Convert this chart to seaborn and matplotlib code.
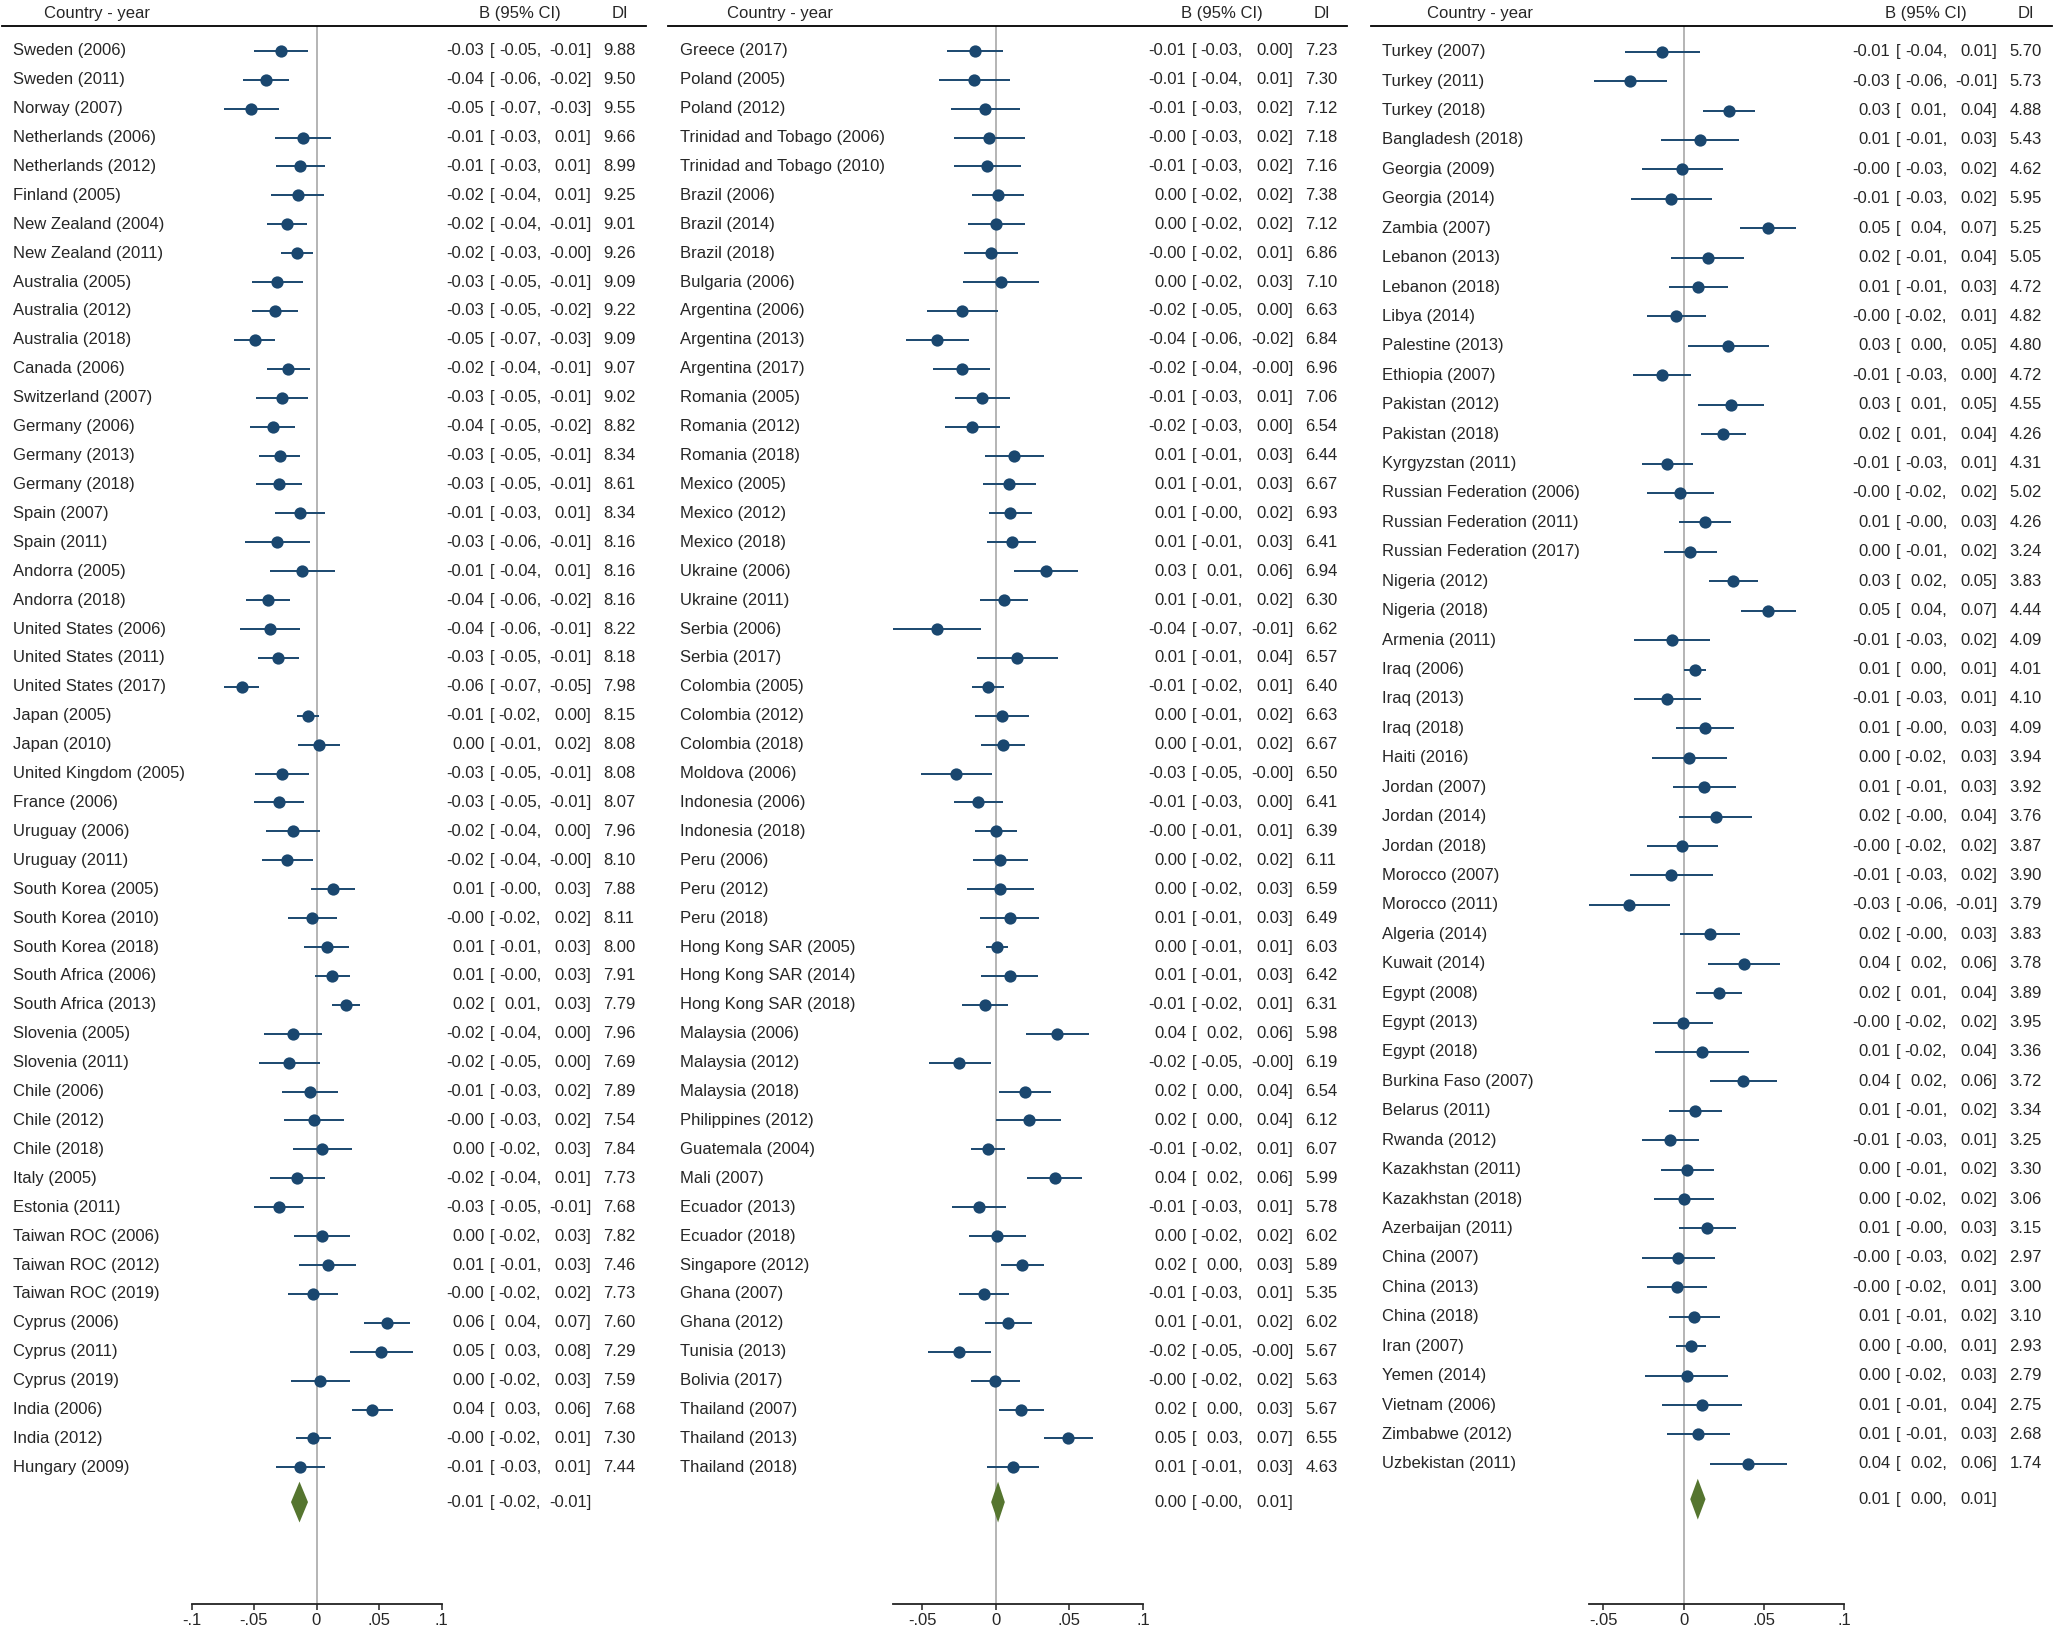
import numpy as np
import pandas as pd
import matplotlib
matplotlib.use("Agg")
import matplotlib.pyplot as plt
import seaborn as sns

# ---------------- data ----------------
labels_1 = ["Sweden (2006)", "Sweden (2011)", "Norway (2007)", "Netherlands (2006)", "Netherlands (2012)",
            "Finland (2005)", "New Zealand (2004)", "New Zealand (2011)", "Australia (2005)", "Australia (2012)",
            "Australia (2018)", "Canada (2006)", "Switzerland (2007)", "Germany (2006)", "Germany (2013)",
            "Germany (2018)", "Spain (2007)", "Spain (2011)", "Andorra (2005)", "Andorra (2018)",
            "United States (2006)", "United States (2011)", "United States (2017)", "Japan (2005)", "Japan (2010)",
            "United Kingdom (2005)", "France (2006)", "Uruguay (2006)", "Uruguay (2011)", "South Korea (2005)",
            "South Korea (2010)", "South Korea (2018)", "South Africa (2006)", "South Africa (2013)", "Slovenia (2005)",
            "Slovenia (2011)", "Chile (2006)", "Chile (2012)", "Chile (2018)", "Italy (2005)",
            "Estonia (2011)", "Taiwan ROC (2006)", "Taiwan ROC (2012)", "Taiwan ROC (2019)", "Cyprus (2006)",
            "Cyprus (2011)", "Cyprus (2019)", "India (2006)", "India (2012)", "Hungary (2009)"]
b_1 = [-0.0285, -0.0403, -0.0523, -0.0109, -0.0131, -0.0152, -0.0237, -0.0160, -0.0317, -0.0333,
       -0.0496, -0.0227, -0.0280, -0.0352, -0.0296, -0.0304, -0.0133, -0.0315, -0.0115, -0.0389,
       -0.0376, -0.0309, -0.0600, -0.0069, 0.0019, -0.0277, -0.0301, -0.0189, -0.0235, 0.0128,
       -0.0035, 0.0080, 0.0123, 0.0232, -0.0187, -0.0219, -0.0056, -0.0024, 0.0045, -0.0155,
       -0.0304, 0.0040, 0.0088, -0.0029, 0.0563, 0.0517, 0.0029, 0.0445, -0.0027, -0.0133]
lo_1 = [-0.0499, -0.0587, -0.0741, -0.0336, -0.0325, -0.0363, -0.0397, -0.0283, -0.0517, -0.0517,
        -0.0659, -0.0397, -0.0488, -0.0531, -0.0461, -0.0488, -0.0333, -0.0573, -0.0373, -0.0568,
        -0.0616, -0.0472, -0.0739, -0.0160, -0.0147, -0.0493, -0.0501, -0.0403, -0.0440, -0.0048,
        -0.0232, -0.0099, -0.0016, 0.0120, -0.0419, -0.0461, -0.0280, -0.0264, -0.0189, -0.0371,
        -0.0501, -0.0181, -0.0139, -0.0229, 0.0381, 0.0269, -0.0205, 0.0285, -0.0163, -0.0328]
hi_1 = [-0.0072, -0.0221, -0.0299, 0.0117, 0.0064, 0.0061, -0.0075, -0.0032, -0.0112, -0.0152,
        -0.0331, -0.0056, -0.0067, -0.0171, -0.0131, -0.0120, 0.0069, -0.0053, 0.0144, -0.0211,
        -0.0136, -0.0144, -0.0459, 0.0021, 0.0187, -0.0064, -0.0101, 0.0024, -0.0029, 0.0309,
        0.0160, 0.0256, 0.0264, 0.0349, 0.0045, 0.0027, 0.0173, 0.0216, 0.0280, 0.0064,
        -0.0104, 0.0264, 0.0315, 0.0173, 0.0744, 0.0768, 0.0269, 0.0608, 0.0112, 0.0064]
di_1 = [9.88, 9.50, 9.55, 9.66, 8.99, 9.25, 9.01, 9.26, 9.09, 9.22,
        9.09, 9.07, 9.02, 8.82, 8.34, 8.61, 8.34, 8.16, 8.16, 8.16,
        8.22, 8.18, 7.98, 8.15, 8.08, 8.08, 8.07, 7.96, 8.10, 7.88,
        8.11, 8.00, 7.91, 7.79, 7.96, 7.69, 7.89, 7.54, 7.84, 7.73,
        7.68, 7.82, 7.46, 7.73, 7.60, 7.29, 7.59, 7.68, 7.30, 7.44]

labels_2 = ["Greece (2017)", "Poland (2005)", "Poland (2012)", "Trinidad and Tobago (2006)", "Trinidad and Tobago (2010)",
            "Brazil (2006)", "Brazil (2014)", "Brazil (2018)", "Bulgaria (2006)", "Argentina (2006)",
            "Argentina (2013)", "Argentina (2017)", "Romania (2005)", "Romania (2012)", "Romania (2018)",
            "Mexico (2005)", "Mexico (2012)", "Mexico (2018)", "Ukraine (2006)", "Ukraine (2011)",
            "Serbia (2006)", "Serbia (2017)", "Colombia (2005)", "Colombia (2012)", "Colombia (2018)",
            "Moldova (2006)", "Indonesia (2006)", "Indonesia (2018)", "Peru (2006)", "Peru (2012)",
            "Peru (2018)", "Hong Kong SAR (2005)", "Hong Kong SAR (2014)", "Hong Kong SAR (2018)", "Malaysia (2006)",
            "Malaysia (2012)", "Malaysia (2018)", "Philippines (2012)", "Guatemala (2004)", "Mali (2007)",
            "Ecuador (2013)", "Ecuador (2018)", "Singapore (2012)", "Ghana (2007)", "Ghana (2012)",
            "Tunisia (2013)", "Bolivia (2017)", "Thailand (2007)", "Thailand (2013)", "Thailand (2018)"]
b_2 = [-0.0141, -0.0147, -0.0073, -0.0048, -0.0059, 0.0014, 0.0002, -0.0034, 0.0034, -0.0229,
       -0.0401, -0.0234, -0.0093, -0.0161, 0.0125, 0.0088, 0.0098, 0.0107, 0.0338, 0.0057,
       -0.0401, 0.0145, -0.0054, 0.0041, 0.0045, -0.0270, -0.0120, -0.0003, 0.0030, 0.0030,
       0.0093, 0.0009, 0.0093, -0.0073, 0.0417, -0.0249, 0.0195, 0.0224, -0.0052, 0.0399,
       -0.0116, 0.0007, 0.0179, -0.0082, 0.0084, -0.0249, -0.0005, 0.0172, 0.0492, 0.0116]
lo_2 = [-0.0331, -0.0390, -0.0304, -0.0286, -0.0283, -0.0161, -0.0193, -0.0218, -0.0222, -0.0469,
        -0.0615, -0.0426, -0.0281, -0.0345, -0.0073, -0.0091, -0.0045, -0.0059, 0.0120, -0.0107,
        -0.0703, -0.0129, -0.0163, -0.0145, -0.0102, -0.0512, -0.0286, -0.0141, -0.0159, -0.0197,
        -0.0107, -0.0066, -0.0102, -0.0231, 0.0202, -0.0458, 0.0020, 0.0002, -0.0168, 0.0213,
        -0.0297, -0.0184, 0.0036, -0.0252, -0.0075, -0.0465, -0.0170, 0.0020, 0.0324, -0.0059]
hi_2 = [0.0045, 0.0098, 0.0163, 0.0195, 0.0168, 0.0190, 0.0200, 0.0147, 0.0295, 0.0014,
        -0.0184, -0.0041, 0.0098, 0.0025, 0.0324, 0.0270, 0.0245, 0.0270, 0.0558, 0.0220,
        -0.0102, 0.0422, 0.0057, 0.0227, 0.0195, -0.0027, 0.0045, 0.0141, 0.0220, 0.0261,
        0.0293, 0.0084, 0.0288, 0.0084, 0.0633, -0.0036, 0.0374, 0.0442, 0.0063, 0.0587,
        0.0068, 0.0202, 0.0324, 0.0088, 0.0245, -0.0032, 0.0161, 0.0324, 0.0660, 0.0293]
di_2 = [7.23, 7.30, 7.12, 7.18, 7.16, 7.38, 7.12, 6.86, 7.10, 6.63,
        6.84, 6.96, 7.06, 6.54, 6.44, 6.67, 6.93, 6.41, 6.94, 6.30,
        6.62, 6.57, 6.40, 6.63, 6.67, 6.50, 6.41, 6.39, 6.11, 6.59,
        6.49, 6.03, 6.42, 6.31, 5.98, 6.19, 6.54, 6.12, 6.07, 5.99,
        5.78, 6.02, 5.89, 5.35, 6.02, 5.67, 5.63, 5.67, 6.55, 4.63]

labels_3 = ["Turkey (2007)", "Turkey (2011)", "Turkey (2018)", "Bangladesh (2018)", "Georgia (2009)",
            "Georgia (2014)", "Zambia (2007)", "Lebanon (2013)", "Lebanon (2018)", "Libya (2014)",
            "Palestine (2013)", "Ethiopia (2007)", "Pakistan (2012)", "Pakistan (2018)", "Kyrgyzstan (2011)",
            "Russian Federation (2006)", "Russian Federation (2011)", "Russian Federation (2017)", "Nigeria (2012)", "Nigeria (2018)",
            "Armenia (2011)", "Iraq (2006)", "Iraq (2013)", "Iraq (2018)", "Haiti (2016)",
            "Jordan (2007)", "Jordan (2014)", "Jordan (2018)", "Morocco (2007)", "Morocco (2011)",
            "Algeria (2014)", "Kuwait (2014)", "Egypt (2008)", "Egypt (2013)", "Egypt (2018)",
            "Burkina Faso (2007)", "Belarus (2011)", "Rwanda (2012)", "Kazakhstan (2011)", "Kazakhstan (2018)",
            "Azerbaijan (2011)", "China (2007)", "China (2013)", "China (2018)", "Iran (2007)",
            "Yemen (2014)", "Vietnam (2006)", "Zimbabwe (2012)", "Uzbekistan (2011)"]
b_3 = [-0.0131, -0.0330, 0.0284, 0.0104, -0.0008, -0.0075, 0.0523, 0.0152, 0.0093, -0.0046,
       0.0278, -0.0133, 0.0295, 0.0247, -0.0102, -0.0021, 0.0131, 0.0041, 0.0307, 0.0527,
       -0.0071, 0.0071, -0.0102, 0.0133, 0.0037, 0.0127, 0.0201, -0.0008, -0.0077, -0.0338,
       0.0164, 0.0376, 0.0220, -0.0002, 0.0114, 0.0373, 0.0073, -0.0083, 0.0019, 0.0004,
       0.0147, -0.0033, -0.0039, 0.0068, 0.0044, 0.0019, 0.0114, 0.0093, 0.0402]
lo_3 = [-0.0365, -0.0554, 0.0124, -0.0143, -0.0257, -0.0324, 0.0353, -0.0079, -0.0093, -0.0226,
        0.0025, -0.0313, 0.0089, 0.0106, -0.0257, -0.0230, -0.0029, -0.0124, 0.0156, 0.0355,
        -0.0307, 0.0003, -0.0311, -0.0045, -0.0195, -0.0066, -0.0025, -0.0228, -0.0336, -0.0589,
        -0.0021, 0.0154, 0.0077, -0.0187, -0.0178, 0.0168, -0.0089, -0.0261, -0.0143, -0.0183,
        -0.0031, -0.0257, -0.0230, -0.0089, -0.0045, -0.0237, -0.0133, -0.0100, 0.0162]
hi_3 = [0.0104, -0.0104, 0.0444, 0.0345, 0.0243, 0.0178, 0.0697, 0.0378, 0.0280, 0.0139,
        0.0535, 0.0045, 0.0498, 0.0390, 0.0058, 0.0189, 0.0293, 0.0210, 0.0461, 0.0699,
        0.0166, 0.0141, 0.0108, 0.0315, 0.0270, 0.0324, 0.0427, 0.0214, 0.0183, -0.0085,
        0.0349, 0.0602, 0.0361, 0.0183, 0.0407, 0.0581, 0.0237, 0.0098, 0.0187, 0.0191,
        0.0328, 0.0195, 0.0149, 0.0226, 0.0141, 0.0276, 0.0361, 0.0288, 0.0643]
di_3 = [5.70, 5.73, 4.88, 5.43, 4.62, 5.95, 5.25, 5.05, 4.72, 4.82,
        4.80, 4.72, 4.55, 4.26, 4.31, 5.02, 4.26, 3.24, 3.83, 4.44,
        4.09, 4.01, 4.10, 4.09, 3.94, 3.92, 3.76, 3.87, 3.90, 3.79,
        3.83, 3.78, 3.89, 3.95, 3.36, 3.72, 3.34, 3.25, 3.30, 3.06,
        3.15, 2.97, 3.00, 3.10, 2.93, 2.79, 2.75, 2.68, 1.74]

# pooled estimate of each panel
pooled_b = [-0.0136, 0.0014, 0.0089]
pooled_lo = [-0.0204, -0.0033, 0.0042]
pooled_hi = [-0.0068, 0.0060, 0.0137]

# ---------------- style ----------------
sns.set_theme(style="white")
plt.rcParams["font.family"] = ["Liberation Sans", "DejaVu Sans"]

W, H = 2055, 1637
TOP, BOTTOM = 26, 1604          # header rule / x axis, pixels from top
NAVY = "#1a476f"
OLIVE = "#55752f"
ZERO_GREY = "#b4b4b4"
FS = 12

fig = plt.figure(figsize=(W / 100, H / 100), dpi=100)
fig.patch.set_facecolor("white")

# layout of the three panels in figure pixels
panels = [
    dict(labels=labels_1, b=b_1, lo=lo_1, hi=hi_1, di=di_1,
         left=2, right=646, zero=316.5, scale=1250, shift=0, label_x=13.4, head_x=97,
         axis_from=-0.1, ticks=[-0.1, -0.05, 0, 0.05, 0.1], row0=50.8, step=28.91),
    dict(labels=labels_2, b=b_2, lo=lo_2, hi=hi_2, di=di_2,
         left=668, right=1347, zero=996, scale=1470, shift=702, label_x=680.4, head_x=780,
         axis_from=-0.07, ticks=[-0.05, 0, 0.05, 0.1], row0=50.8, step=28.91),
    dict(labels=labels_3, b=b_3, lo=lo_3, hi=hi_3, di=di_3,
         left=1371, right=2052, zero=1683.5, scale=1607, shift=1406, label_x=1382.4, head_x=1480,
         axis_from=-0.059, ticks=[-0.05, 0, 0.05, 0.1], row0=51.7, step=29.42),
]


def tick_text(t):
    return f"{t:g}".replace("0.", ".")


for k, p in enumerate(panels):
    n = len(p["labels"])
    df = pd.DataFrame({"row": np.arange(1, n + 1), "b": p["b"], "lo": p["lo"], "hi": p["hi"]})

    ax = fig.add_axes([p["left"] / W, 1 - BOTTOM / H, (p["right"] - p["left"]) / W, (BOTTOM - TOP) / H])
    X = lambda px, p=p: (px - p["zero"]) / p["scale"]
    R = lambda py, p=p: 1 + (py - p["row0"]) / p["step"]

    ax.axvline(0, color=ZERO_GREY, lw=1.4, zorder=1)
    ax.hlines(df["row"], df["lo"], df["hi"], color=NAVY, lw=1.4, zorder=2)
    sns.scatterplot(data=df, x="b", y="row", ax=ax, color=NAVY, s=78, linewidth=0,
                    zorder=3, legend=False)

    # pooled diamond
    yd = n + 1.2
    h = 20.4 / p["step"]
    pb, plo, phi = pooled_b[k], pooled_lo[k], pooled_hi[k]
    ax.fill([plo, pb, phi, pb], [yd, yd - h, yd, yd + h], color=OLIVE, lw=0, zorder=3)

    # text columns
    s = p["shift"]
    for i, row in df.iterrows():
        r = row["row"]
        ax.text(X(p["label_x"]), r, p["labels"][i], ha="left", va="center", fontsize=FS)
        ax.text(X(484.4 + s), r, f"{row['b']:.2f}", ha="right", va="center", fontsize=FS)
        ax.text(X(489.7 + s), r, "[", ha="left", va="center", fontsize=FS)
        ax.text(X(541 + s), r, f"{row['lo']:.2f},", ha="right", va="center", fontsize=FS)
        ax.text(X(591.5 + s), r, f"{row['hi']:.2f}]", ha="right", va="center", fontsize=FS)
        ax.text(X(603.6 + s), r, f"{p['di'][i]:.2f}", ha="left", va="center", fontsize=FS)
    ax.text(X(484.4 + s), yd, f"{pb:.2f}", ha="right", va="center", fontsize=FS)
    ax.text(X(489.7 + s), yd, "[", ha="left", va="center", fontsize=FS)
    ax.text(X(541 + s), yd, f"{plo:.2f},", ha="right", va="center", fontsize=FS)
    ax.text(X(591.5 + s), yd, f"{phi:.2f}]", ha="right", va="center", fontsize=FS)

    # header
    yh = R(13.5)
    ax.text(X(p["head_x"]), yh, "Country - year", ha="center", va="center", fontsize=FS)
    ax.text(X(520 + s), yh, "B (95% CI)", ha="center", va="center", fontsize=FS)
    ax.text(X(619.5 + s), yh, "DI", ha="center", va="center", fontsize=FS)

    ax.set_xlim(X(p["left"]), X(p["right"]))
    ax.set_ylim(R(BOTTOM), R(TOP))
    ax.set_xlabel("")
    ax.set_ylabel("")
    ax.set_yticks([])
    ax.set_xticks(p["ticks"])
    ax.set_xticklabels([tick_text(t) for t in p["ticks"]])
    ax.tick_params(axis="x", bottom=True, direction="out", length=4.5, width=1.1,
                   color="#222222", labelsize=FS, pad=2)
    ax.grid(False)
    ax.set_facecolor("none")
    for side in ["left", "right"]:
        ax.spines[side].set_visible(False)
    ax.spines["top"].set_color("black")
    ax.spines["top"].set_linewidth(1.3)
    ax.spines["bottom"].set_color("#222222")
    ax.spines["bottom"].set_linewidth(1.3)
    ax.spines["bottom"].set_bounds(p["axis_from"], 0.1)

fig.savefig("out.png", dpi=100)
